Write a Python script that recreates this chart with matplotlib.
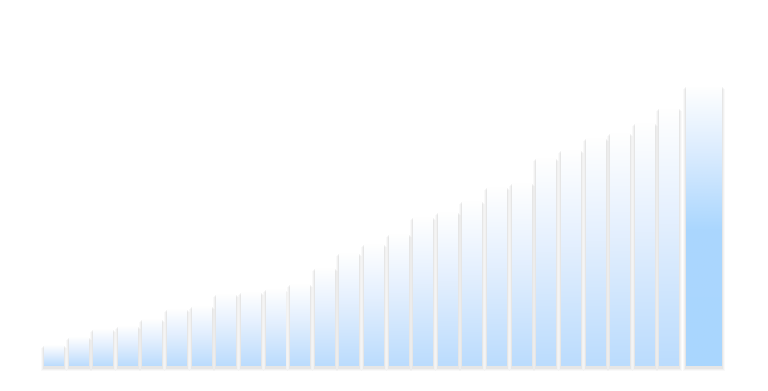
import matplotlib
matplotlib.use("Agg")
import matplotlib.pyplot as plt
import numpy as np
from matplotlib.colors import LinearSegmentedColormap
from matplotlib.patches import Rectangle

# bar heights (arbitrary units)
values = [21, 29, 37, 40, 47, 57, 60, 72, 74, 77, 82, 98, 113, 122, 132,
          149, 154, 165, 179, 183, 208, 216, 228, 233, 243, 258, 280]
highlight = [False] * 26 + [True]

plain_cmap = LinearSegmentedColormap.from_list(
    "plain", [(0.0, "#bbdcfd"), (0.55, "#e3effe"), (1.0, "#ffffff")])
hi_cmap = LinearSegmentedColormap.from_list(
    "hi", [(0.0, "#a9d6fe"), (0.49, "#abd7fe"), (0.75, "#d9ebfe"), (1.0, "#ffffff")])

fig = plt.figure(figsize=(7.68, 3.91), dpi=100)
ax = fig.add_axes([0, 0, 1, 1])
ax.axis("off")

grad = np.linspace(0, 1, 256).reshape(-1, 1)
px = 1 / 24.62  # one pixel in x data units

for i, (v, hi) in enumerate(zip(values, highlight)):
    if hi:
        left, width = i + 0.08, 1.46
    else:
        left, width = i, 0.81
    # soft shadow around the bar, a bit heavier underneath
    for spread, a in [(3, 0.04), (2, 0.06), (1, 0.09)]:
        ax.add_patch(Rectangle((left - spread * px, -1.5 - spread),
                               width + 2 * spread * px, v + 1.5,
                               facecolor="#7a7a7a", edgecolor="none",
                               alpha=a, zorder=1))
    im = ax.imshow(grad, cmap=hi_cmap if hi else plain_cmap, origin="lower",
                   aspect="auto", extent=(left, left + width, 0, v),
                   interpolation="bilinear", zorder=2)
    clip = Rectangle((left, 0), width, v, transform=ax.transData,
                     facecolor="none", edgecolor="none")
    im.set_clip_path(clip)

ax.set_xlim(-1.787, 29.41)
ax.set_ylim(-25, 366)

fig.savefig("out.png", dpi=100, facecolor="white")
